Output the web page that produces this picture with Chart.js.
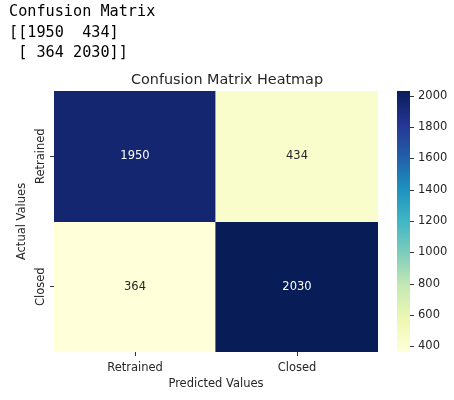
<!DOCTYPE html>
<html>
<head>
<meta charset="utf-8">
<script src="https://cdn.jsdelivr.net/npm/chart.js@4"></script>
<style>
  body { margin: 0; background: #fff; }
  #wrap { position: relative; width: 454px; height: 400px; }
  #out {
    position: absolute; left: 9px; top: 1px; margin: 0;
    font-family: 'DejaVu Sans Mono', monospace; font-size: 15.2px; line-height: 20.6px;
    color: #000; white-space: pre;
  }
  canvas { position: absolute; left: 0; top: 0; }
</style>
</head>
<body>
<div id="wrap">
  <canvas id="heat" width="454" height="400"></canvas>
  <pre id="out"></pre>
</div>
<script>
// confusion matrix data
const xLabels = ['Retrained', 'Closed'];
const yLabels = ['Retrained', 'Closed'];
const row0 = [1950, 434];
const row1 = [364, 2030];
const matrix = [row0, row1];
const cbTicks = [400, 600, 800, 1000, 1200, 1400, 1600, 1800, 2000];

const FONT = 'DejaVu Sans';

// printed numpy array above the plot
const w = Math.max(...matrix.flat()).toString().length;
document.getElementById('out').textContent = 'Confusion Matrix\n[' +
    matrix.map((r, i) => (i ? ' ' : '') + '[' + r.map(v => String(v).padStart(w)).join(' ') + ']').join('\n') + ']';

// YlGnBu colormap
const ylgnbu = ['#ffffd9', '#edf8b1', '#c7e9b4', '#7fcdbb', '#41b6c4', '#1d91c0', '#225ea8', '#253494', '#081d58'];
const vmin = Math.min(...matrix.flat());
const vmax = Math.max(...matrix.flat());

function hexRgb(h) {
    return [1, 3, 5].map(i => parseInt(h.substr(i, 2), 16));
}
function cmap(v) {
    let t = (v - vmin) / (vmax - vmin);
    t = Math.min(1, Math.max(0, t)) * (ylgnbu.length - 1);
    const i = Math.min(Math.floor(t), ylgnbu.length - 2);
    const f = t - i;
    const a = hexRgb(ylgnbu[i]), b = hexRgb(ylgnbu[i + 1]);
    return a.map((c, k) => Math.round(c + (b[k] - c) * f));
}
function textColor(v) {
    const c = cmap(v).map(x => {
        x /= 255;
        return x <= 0.03928 ? x / 12.92 : Math.pow((x + 0.055) / 1.055, 2.4);
    });
    const lum = 0.2126 * c[0] + 0.7152 * c[1] + 0.0722 * c[2];
    return lum > 0.408 ? '#262626' : '#ffffff';
}

const nRows = yLabels.length;
const datasets = matrix.map((row, i) => ({
    data: row.map(() => [nRows - 1 - i, nRows - i]),
    backgroundColor: row.map(v => 'rgb(' + cmap(v).join(',') + ')'),
    borderWidth: 0,
    inflateAmount: 0.6,
    grouped: false,
    barPercentage: 1,
    categoryPercentage: 1
}));

// cell numbers, y tick labels and the colorbar
const heatExtras = {
    id: 'heatExtras',
    afterDatasetsDraw(chart) {
        const {ctx, scales: {x, y}} = chart;
        ctx.save();
        ctx.font = '11.5px ' + FONT;
        ctx.textAlign = 'center';
        ctx.textBaseline = 'middle';
        matrix.forEach((row, i) => row.forEach((v, j) => {
            ctx.fillStyle = textColor(v);
            ctx.fillText(String(v), x.getPixelForValue(j), y.getPixelForValue(nRows - i - 0.5));
        }));
        ctx.restore();
    },
    afterDraw(chart) {
        const {ctx, chartArea, scales: {y, cb}} = chart;
        ctx.save();
        // rotated row labels
        ctx.font = '11.5px ' + FONT;
        ctx.fillStyle = '#262626';
        ctx.textAlign = 'center';
        ctx.textBaseline = 'alphabetic';
        yLabels.forEach((lab, i) => {
            ctx.save();
            ctx.translate(chartArea.left - 10.5, y.getPixelForValue(nRows - i - 0.5));
            ctx.rotate(-Math.PI / 2);
            ctx.fillText(lab, 0, 0);
            ctx.restore();
        });
        // colorbar
        const x0 = chartArea.right + 19, x1 = x0 + 13;
        const top = cb.getPixelForValue(vmax), bot = cb.getPixelForValue(vmin);
        const g = ctx.createLinearGradient(0, bot, 0, top);
        ylgnbu.forEach((c, i) => g.addColorStop(i / (ylgnbu.length - 1), c));
        ctx.fillStyle = g;
        ctx.fillRect(x0, top, x1 - x0, bot - top);
        ctx.strokeStyle = '#333';
        ctx.lineWidth = 1;
        cbTicks.forEach(v => {
            const py = Math.round(cb.getPixelForValue(v)) + 0.5;
            ctx.beginPath();
            ctx.moveTo(x1, py);
            ctx.lineTo(x1 + 4, py);
            ctx.stroke();
        });
        ctx.restore();
    }
};

new Chart(document.getElementById('heat').getContext('2d'), {
    type: 'bar',
    data: { labels: xLabels, datasets: datasets },
    options: {
        responsive: false,
        animation: false,
        layout: { padding: 0 },
        plugins: {
            legend: { display: false },
            tooltip: { enabled: false },
            title: {
                display: true,
                text: 'Confusion Matrix Heatmap',
                color: '#262626',
                font: { family: FONT, size: 14.4, weight: 'normal' },
                padding: { top: 72, bottom: 1.7 }
            }
        },
        scales: {
            x: {
                grid: { offset: false, drawOnChartArea: false, drawTicks: true, tickLength: 4, color: '#333' },
                border: { display: false },
                ticks: { color: '#262626', padding: 5, font: { family: FONT, size: 11.5 } },
                title: {
                    display: true,
                    text: 'Predicted Values',
                    color: '#262626',
                    font: { family: FONT, size: 11.5 },
                    padding: { top: 0, bottom: 8.8 }
                },
                afterFit(scale) { scale.height = 48; }
            },
            y: {
                min: 0,
                max: nRows,
                grid: { drawOnChartArea: false, drawTicks: true, tickLength: 4, color: '#333' },
                border: { display: false },
                ticks: { display: false },
                afterBuildTicks(scale) {
                    scale.ticks = yLabels.map((_, i) => ({ value: i + 0.5 }));
                },
                title: {
                    display: true,
                    text: 'Actual Values',
                    color: '#262626',
                    font: { family: FONT, size: 11.5 },
                    padding: { top: 15.5, bottom: 0 }
                },
                afterFit(scale) { scale.width = 54; }
            },
            cb: {
                type: 'linear',
                position: 'right',
                min: vmin,
                max: vmax,
                grid: { drawOnChartArea: false, drawTicks: true, tickLength: 36, color: 'rgba(0,0,0,0)' },
                border: { display: false },
                ticks: {
                    color: '#262626', padding: 4, font: { family: FONT, size: 11.5 },
                    callback: v => String(v)
                },
                afterBuildTicks(scale) {
                    scale.ticks = cbTicks.map(v => ({ value: v }));
                },
                afterFit(scale) { scale.width = 76; }
            }
        }
    },
    plugins: [heatExtras]
});
</script>
</body>
</html>
